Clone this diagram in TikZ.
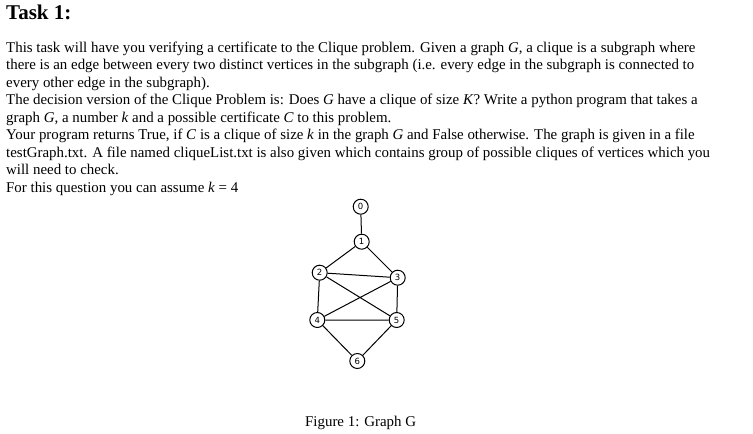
\documentclass[tikz,border=0pt]{standalone}
\usepackage{fontspec}
\setmainfont{Liberation Serif}
\newfontfamily\nodefont{DejaVu Sans}
\newcommand{\vi}[1]{\textit{#1}}
\begin{document}
\begin{tikzpicture}[x=1pt,y=-1pt,
  txt/.style={anchor=base west,inner sep=0pt,font=\fontsize{14.9}{17}\selectfont},
  vtx/.style={circle,draw,line width=1pt,minimum size=15pt,inner sep=0pt,font=\nodefont\fontsize{8.5}{8.5}\selectfont},
  edge/.style={line width=1pt}]
\useasboundingbox (0,0) rectangle (753,434);
\node[anchor=base west,inner sep=0pt,font=\fontsize{21}{24}\selectfont\bfseries] (t) at (6,19) {Task 1:};
\node[txt] (l1) at (6,52) {This task will have you verifying a certificate to the Clique problem. Given a graph \vi{G}, a clique is a subgraph where};
\node[txt] (l2) at (6,69.5) {there is an edge between every two distinct vertices in the subgraph (i.e. every edge in the subgraph is connected to};
\node[txt] (l3) at (6,87) {every other edge in the subgraph).};
\node[txt] (l4) at (6,104.5) {The decision version of the Clique Problem is: Does \vi{G} have a clique of size \vi{K}? Write a python program that takes a};
\node[txt] (l5) at (6,122) {graph \vi{G}, a number \vi{k} and a possible certificate \vi{C} to this problem.};
\node[txt] (l6) at (6,139.5) {Your program returns True, if \vi{C} is a clique of size \vi{k} in the graph \vi{G} and False otherwise. The graph is given in a file};
\node[txt] (l7) at (6,157) {testGraph.txt. A file named cliqueList.txt is also given which contains group of possible cliques of vertices which you};
\node[txt] (l8) at (6,174.5) {will need to check.};
\node[txt] (l9) at (6,192) {For this question you can assume \vi{k} = 4};
\node[vtx] (n0) at (360.7,206.7) {0};
\node[vtx] (n1) at (361.7,241.7) {1};
\node[vtx] (n2) at (319.7,272.7) {2};
\node[vtx] (n3) at (397.7,277.7) {3};
\node[vtx] (n4) at (317.3,320) {4};
\node[vtx] (n5) at (396.7,320) {5};
\node[vtx] (n6) at (357.3,361) {6};
\draw[edge] (n0)--(n1) (n1)--(n2) (n1)--(n3) (n2)--(n3) (n2)--(n4) (n2)--(n5)
  (n3)--(n4) (n3)--(n5) (n4)--(n5) (n4)--(n6) (n5)--(n6);
\node[txt] (cap) at (305,426) {Figure 1: Graph G};
\end{tikzpicture}
\end{document}
